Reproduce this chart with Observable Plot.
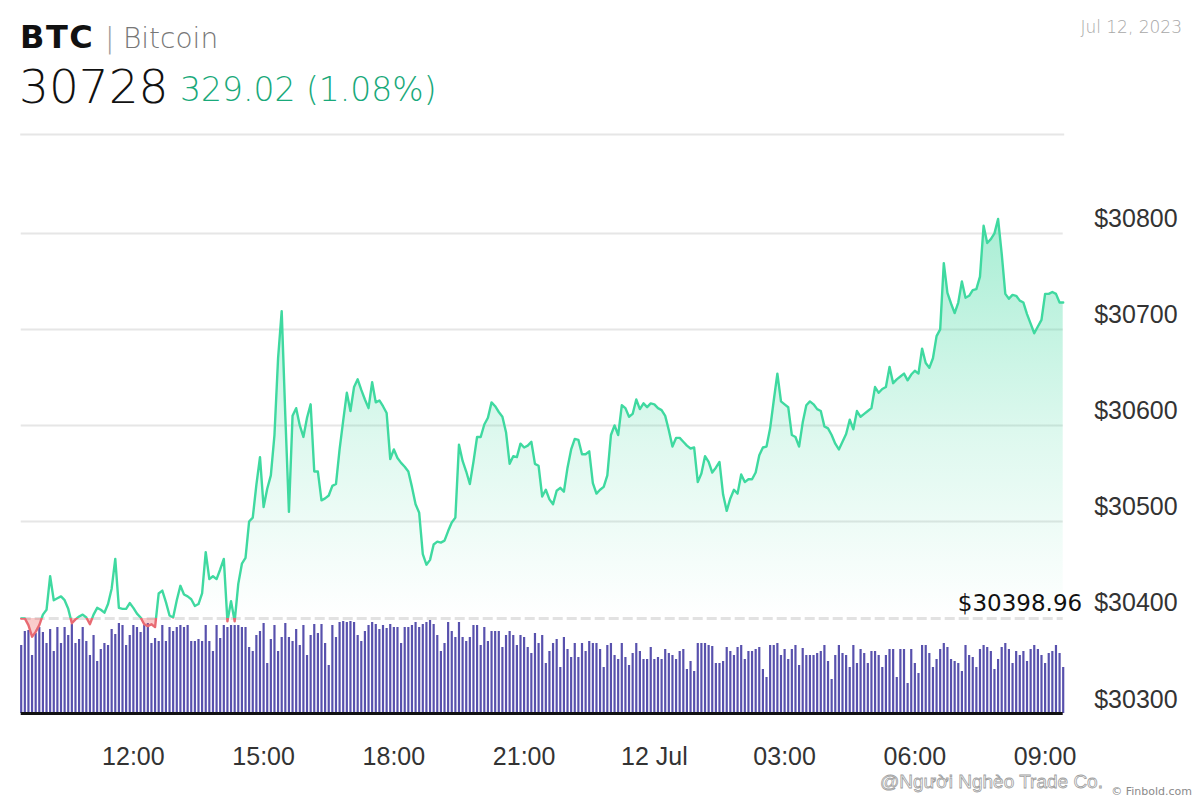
<!DOCTYPE html>
<html>
<head>
<meta charset="utf-8">
<script src="https://cdn.jsdelivr.net/npm/d3@7"></script>
<script src="https://cdn.jsdelivr.net/npm/@observablehq/plot@0.6"></script>
<style>
  html, body { margin: 0; padding: 0; background: #fff; }
  #wrap { position: relative; width: 1200px; height: 800px; overflow: hidden; background: #fff; }
  #wrap > svg { position: absolute; left: 0; top: 0; }
</style>
</head>
<body>
<div id="wrap"></div>
<script>
// ---------------- data ----------------
const symbol = "BTC";
const assetName = "Bitcoin";
const dateLabel = "Jul 12, 2023";
const lastPrice = "30728";
const changeLabel = "329.02 (1.08%)";
const basePrice = 30398.96;
const startTime = "2023-07-11T09:25:00Z";
const stepMinutes = 5;
const yTickValues = [30300, 30400, 30500, 30600, 30700, 30800];
const gridValues = [30500, 30600, 30700, 30800];
const yDomain = [30300, 30903];
const volumeDomain = [0, 96];
const watermark = "@Người Nghèo Trade Co.";
const credit = "© Finbold.com";

// price every 5 minutes
const prices = [
  30399,30399,30392,30380,30385,30392,30403,30408,30443,30418,
  30420,30422,30418,30409,30394,30398,30401,30403,30400,30393,
  30403,30410,30408,30405,30414,30430,30461,30410,30409,30409,
  30415,30410,30404,30400,30393,30391,30393,30390,30425,30428,
  30416,30402,30400,30418,30433,30424,30422,30419,30412,30414,
  30425,30468,30440,30443,30440,30450,30461,30396,30417,30396,
  30435,30456,30462,30500,30504,30538,30567,30515,30534,30548,
  30590,30670,30719,30610,30510,30610,30618,30600,30588,30608,
  30622,30552,30552,30522,30524,30527,30537,30539,30575,30605,
  30634,30615,30640,30648,30637,30627,30618,30645,30624,30626,
  30620,30613,30565,30575,30566,30561,30557,30552,30536,30518,
  30509,30466,30455,30460,30476,30479,30478,30480,30490,30499,
  30504,30580,30563,30552,30539,30562,30588,30588,30601,30608,
  30624,30620,30614,30609,30593,30560,30568,30567,30581,30577,
  30579,30583,30560,30558,30526,30533,30523,30518,30532,30535,
  30531,30556,30575,30586,30585,30570,30570,30573,30540,30529,
  30533,30536,30548,30590,30600,30590,30621,30618,30609,30612,
  30627,30617,30623,30619,30623,30622,30618,30616,30610,30595,
  30578,30587,30587,30583,30579,30576,30577,30541,30550,30568,
  30562,30551,30556,30562,30528,30511,30524,30533,30529,30549,
  30541,30544,30544,30551,30569,30577,30578,30597,30626,30654,
  30625,30622,30619,30590,30588,30578,30603,30621,30625,30622,
  30617,30615,30599,30597,30590,30581,30575,30583,30591,30606,
  30596,30615,30609,30612,30615,30618,30640,30634,30638,30640,
  30661,30644,30648,30651,30654,30647,30653,30657,30654,30680,
  30665,30660,30670,30693,30700,30769,30738,30727,30717,30728,
  30750,30733,30735,30741,30742,30755,30808,30790,30794,30800,
  30815,30779,30737,30732,30736,30735,30730,30728,30716,30706,
  30696,30703,30710,30737,30737,30739,30737,30728,30728
];

// relative traded volume every 5 minutes
const volumes = [
  68,82,83,58,80,86,81,70,84,62, 86,70,86,78,89,70,74,86,72,58,
  78,52,64,70,68,84,79,90,88,68, 78,88,86,81,88,90,70,75,72,88,
  72,86,82,86,88,86,88,72,72,74, 72,88,72,62,88,75,88,86,88,88,
  88,86,86,66,62,78,82,90,50,74, 88,62,76,90,76,72,84,
  68,88,58,78,89,80,89,70,48,88, 76,91,92,91,92,91,78,72,82,88,
  91,89,84,88,85,89,86,86,70,86, 86,88,91,86,89,91,94,89,78,62,
  70,91,82,76,91,76,72,76,88,88, 68,86,72,82,82,82,66,78,82,78,
  68,78,76,66,60,80,70,
  78,50,62,70,74,46,76,64,56,70, 56,70,62,72,70,70,64,46,68,70,
  58,54,70,56,48,60,70,62,54,54, 66,54,56,54,64,60,58,54,62,64,
  44,52,42,70,70,70,68,67,50,50, 52,66,62,58,66,68,54,62,62,64,
  66,44,36,68,68,70,58,64,54,64, 68,48,
  65,58,58,58,60,62,68,52,34,58, 68,60,58,46,68,50,64,60,50,62,
  62,58,46,58,64,64,36,64,64,30, 64,50,40,68,68,60,46,54,64,70,
  66,54,52,50,42,68,58,56,46,64, 68,66,62,44,54,66,70,64,50,62,
  58,62,52,64,68,64,58,50,60,62, 68,60,46
];

// ---------------- build ----------------
const t0 = new Date(startTime).getTime();
const data = prices.map((p, i) => ({
  t: new Date(t0 + i * stepMinutes * 60000),
  price: p,
  vol: volumes[i]
}));
const tEnd = data[data.length - 1].t;
const xDomain = [data[0].t, tEnd];
const xTicks = d3.utcHour.every(3).range(data[0].t, tEnd);
const fmtTick = d => d.getUTCHours() === 0 ? d3.utcFormat("%-d %b")(d) : d3.utcFormat("%H:%M")(d);

const W = 1200, H = 800;
const margins = {marginLeft: 20.7, marginRight: 137.3, marginBottom: 87};
const wrap = document.getElementById("wrap");

// volume layer
const volPlot = Plot.plot({
  width: W, height: H, ...margins, marginTop: 617,
  style: {background: "transparent", overflow: "visible"},
  x: {type: "utc", domain: xDomain, axis: null},
  y: {domain: volumeDomain, axis: null},
  marks: [
    Plot.ruleX(data, {x: "t", y1: () => 0, y2: "vol", stroke: "#5851ad", strokeWidth: 2.2})
  ]
});
wrap.appendChild(volPlot);

// price layer
const pricePlot = Plot.plot({
  width: W, height: H, ...margins, marginTop: 134,
  style: {background: "transparent", overflow: "visible", fontFamily: "'Liberation Sans', Arial, sans-serif", color: "#333"},
  x: {type: "utc", domain: xDomain, label: null},
  y: {domain: yDomain, label: null},
  marks: [
    Plot.frame({anchor: "top", stroke: "#e6e6e6", strokeWidth: 2}),
    Plot.ruleY(gridValues, {stroke: "#e6e6e6", strokeWidth: 2}),
    Plot.ruleY([basePrice], {stroke: "#e2e2e2", strokeWidth: 3, strokeDasharray: "10,4"}),
    Plot.areaY(data, {x: "t", y1: () => basePrice, y2: "price", fill: "url(#baseFill)", curve: "linear"}),
    Plot.lineY(data, {x: "t", y: "price", stroke: "url(#baseStroke)", strokeWidth: 2.4, strokeLinejoin: "round"}),
    Plot.ruleY([yDomain[0]], {stroke: "#111", strokeWidth: 3}),
    Plot.axisY(yTickValues, {anchor: "right", label: null, tickSize: 0, tickPadding: 31, dy: -14, fontSize: 25, tickFormat: d => "$" + d}),
    Plot.axisX(xTicks, {anchor: "bottom", label: null, tickSize: 0, tickPadding: 34, fontSize: 25, tickFormat: fmtTick}),
    Plot.text([basePrice], {x: () => tEnd, y: d => d, text: d => "$" + d.toFixed(2), textAnchor: "end",
      dx: 19, dy: -15, fontSize: 23, fontFamily: "'DejaVu Sans', sans-serif", fill: "#111"})
  ]
});
wrap.appendChild(pricePlot);

// gradients positioned with the plot's own y scale
const ys = pricePlot.scale("y");
const yTopPx = ys.apply(d3.max(prices));
const yBasePx = ys.apply(basePrice);
const yBotPx = ys.apply(yDomain[0]);
const fb = (yBasePx - yTopPx) / (yBotPx - yTopPx);
const defs = d3.select(pricePlot).insert("defs", ":first-child");
const gFill = defs.append("linearGradient").attr("id", "baseFill").attr("gradientUnits", "userSpaceOnUse")
  .attr("x1", 0).attr("x2", 0).attr("y1", yTopPx).attr("y2", yBotPx);
[[0, "#3fd9a0", 0.45], [fb * 0.55, "#3fd9a0", 0.17], [fb, "#3fd9a0", 0.0], [fb, "#ef5a5a", 0.32], [1, "#ef5a5a", 0.1]]
  .forEach(([o, c, a]) => gFill.append("stop").attr("offset", o).attr("stop-color", c).attr("stop-opacity", a));
const gStroke = defs.append("linearGradient").attr("id", "baseStroke").attr("gradientUnits", "userSpaceOnUse")
  .attr("x1", 0).attr("x2", 0).attr("y1", yTopPx).attr("y2", yBotPx);
[[0, "#3fd9a0"], [fb, "#3fd9a0"], [fb, "#e86a72"], [1, "#e86a72"]]
  .forEach(([o, c]) => gStroke.append("stop").attr("offset", o).attr("stop-color", c));

// header & footer texts
const ov = d3.select(wrap).append("svg").attr("width", W).attr("height", H).style("pointer-events", "none");
const hdr = ov.append("g").attr("font-family", "'DejaVu Sans', sans-serif");
hdr.append("text").attr("x", 20).attr("y", 48).attr("font-size", 32).attr("font-weight", 700)
  .attr("letter-spacing", 1.5).attr("fill", "#111").text(symbol);
hdr.append("text").attr("x", 105).attr("y", 48).attr("font-size", 28).attr("font-weight", 200).attr("fill", "#999").text("|");
hdr.append("text").attr("x", 123).attr("y", 48).attr("font-size", 28).attr("font-weight", 300).attr("fill", "#777").text(assetName);
hdr.append("text").attr("x", 19).attr("y", 103).attr("font-size", 47).attr("font-weight", 200).attr("fill", "#111").text(lastPrice);
hdr.append("text").attr("x", 180).attr("y", 101).attr("font-size", 33).attr("font-weight", 300).attr("fill", "#19a97a").text(changeLabel);
hdr.append("text").attr("x", 1182).attr("y", 33).attr("font-size", 17).attr("font-weight", 200)
  .attr("text-anchor", "end").attr("fill", "#a8a8a8").text(dateLabel);
ov.append("text").attr("x", 880).attr("y", 788).attr("font-family", "'Liberation Sans', Arial, sans-serif").attr("font-size", 19)
  .attr("fill", "none").attr("stroke", "#a0a0a0").attr("stroke-width", 0.8).text(watermark);
ov.append("text").attr("x", 1192).attr("y", 795).attr("font-family", "'DejaVu Sans', sans-serif").attr("font-size", 11)
  .attr("text-anchor", "end").attr("fill", "#8a8a8a").text(credit);
</script>
</body>
</html>
